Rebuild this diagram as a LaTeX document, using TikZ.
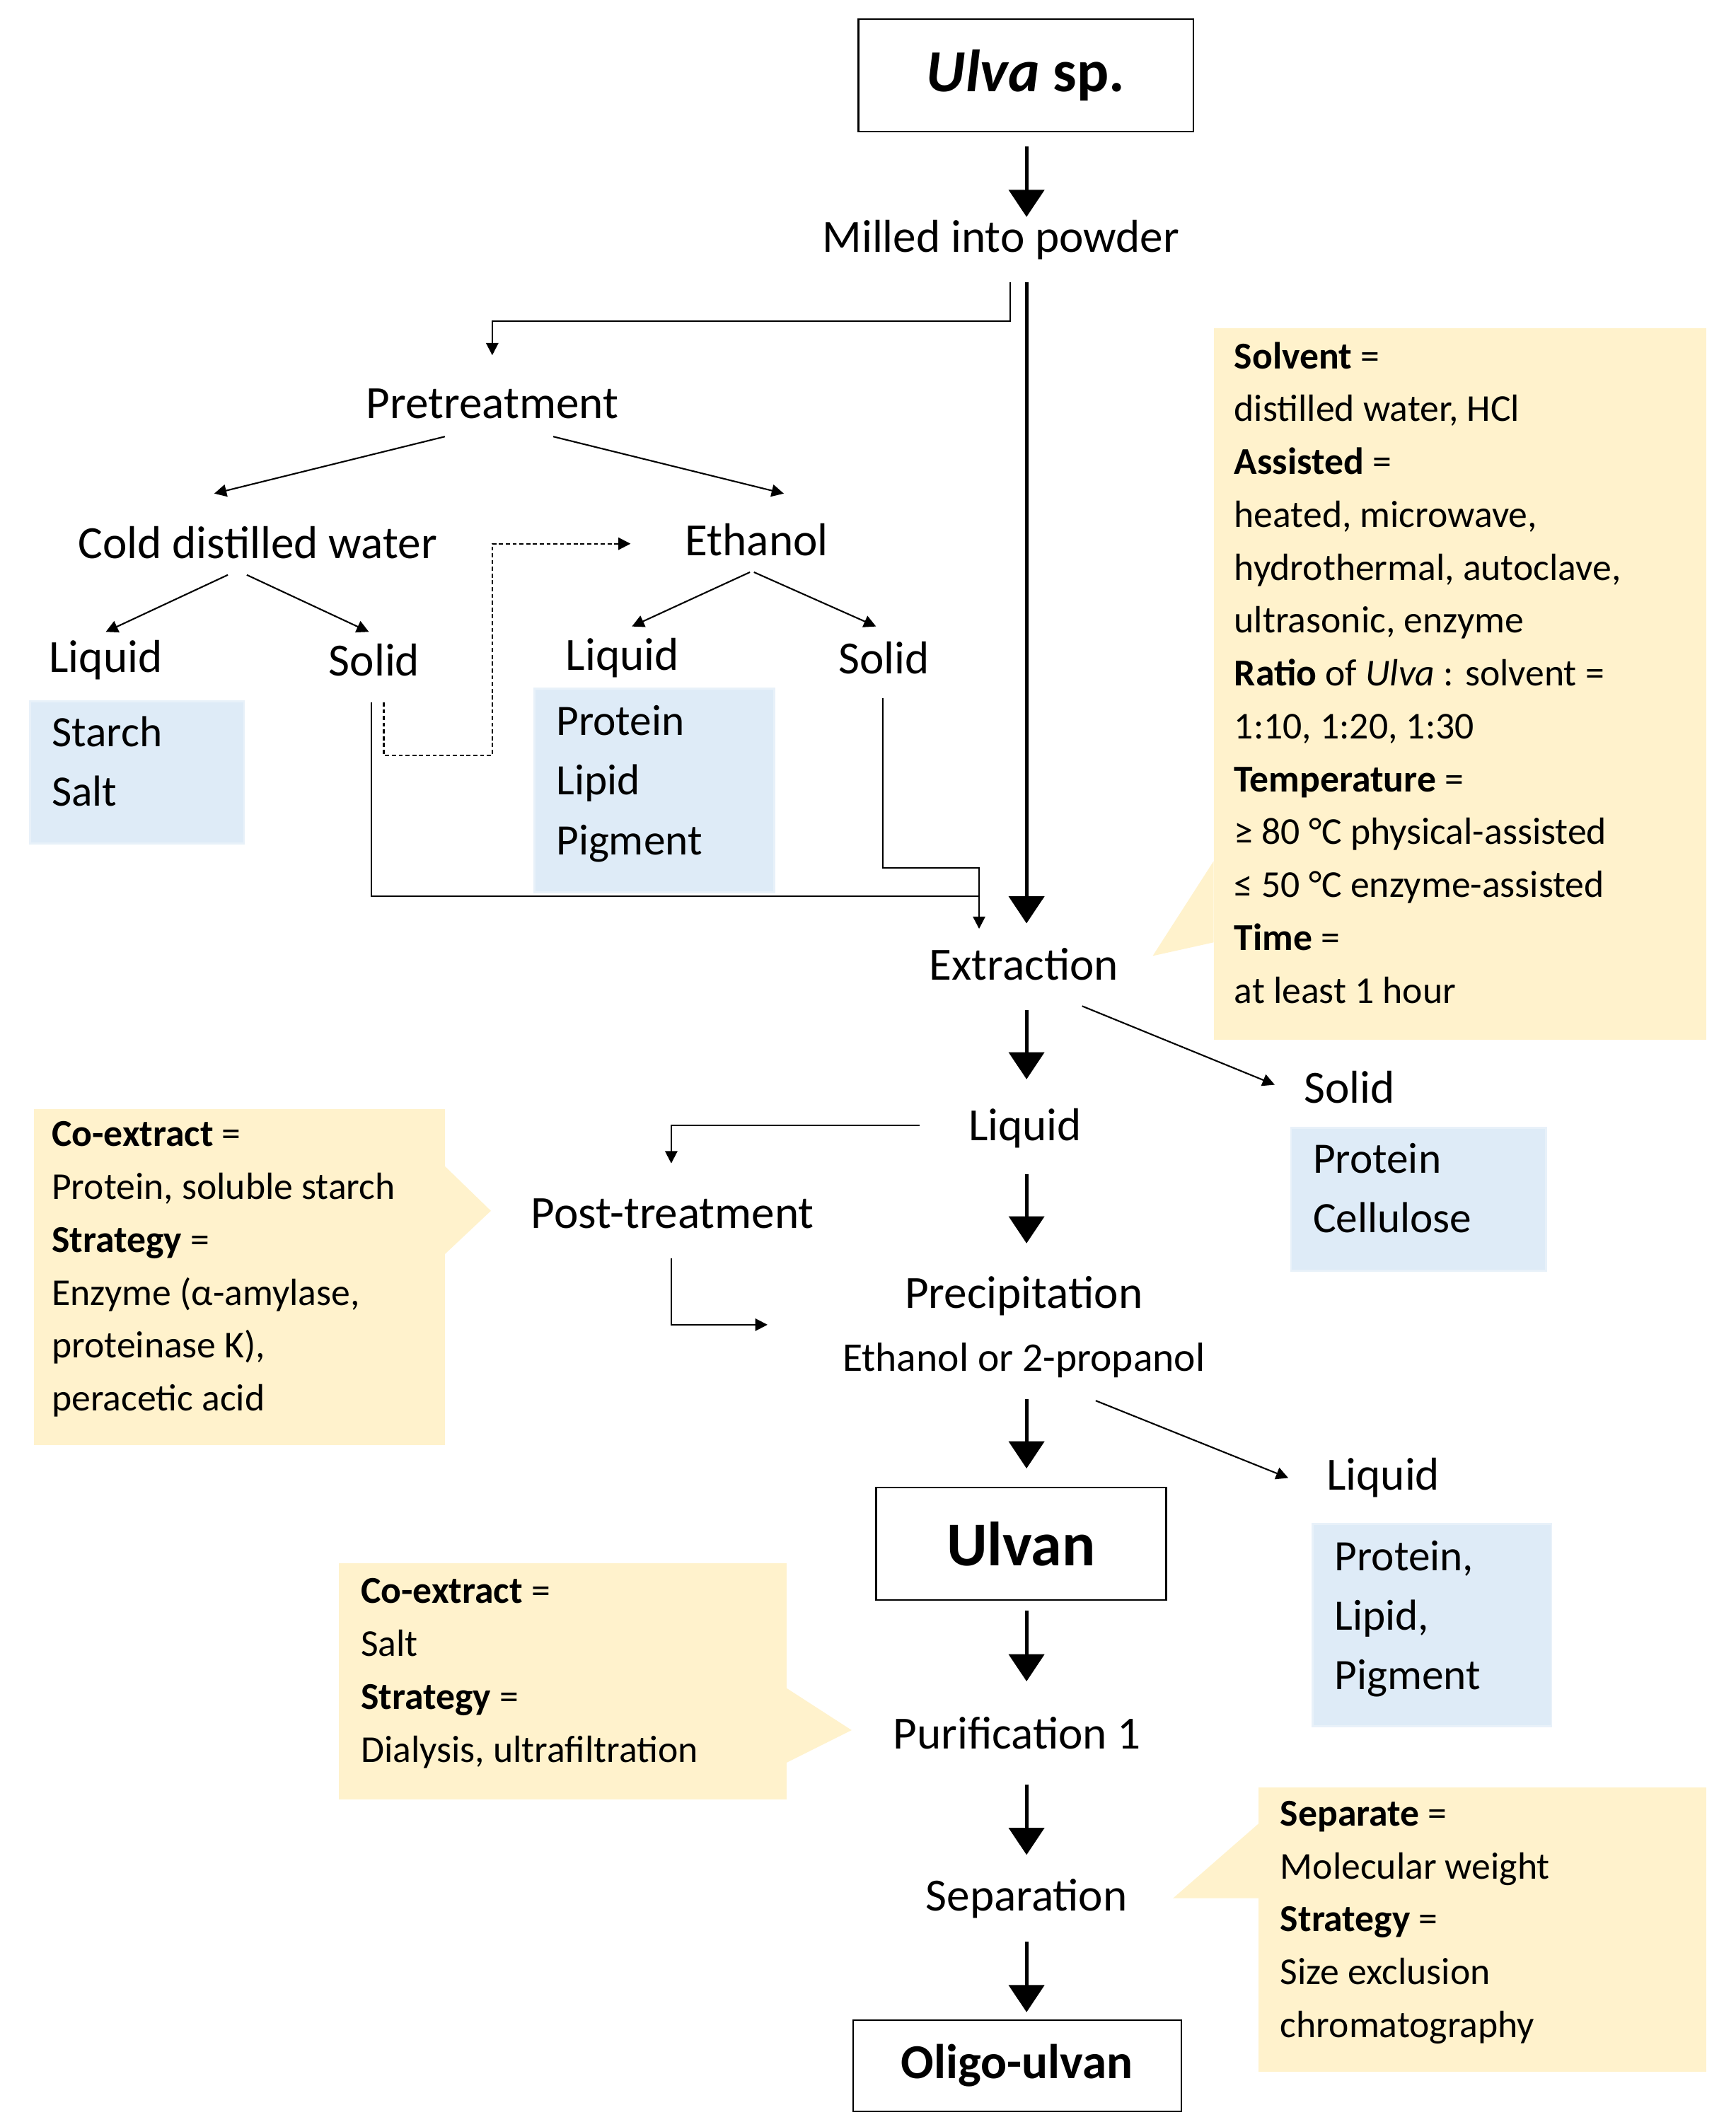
\documentclass[tikz,border=0pt]{standalone}
\usepackage{fontspec}
\setmainfont{Carlito}
\usetikzlibrary{arrows.meta}
\definecolor{yel}{HTML}{FFF2CC}
\definecolor{blu}{HTML}{DEEBF7}
\begin{document}
\begin{tikzpicture}[x=1pt,y=-1pt,
 lab/.style={font=\fontsize{34}{40}\selectfont, inner sep=0},
 call/.style={font=\fontsize{28}{39}\selectfont, align=left, anchor=north west, inner sep=0},
 big/.style={line width=2.6pt,-{Triangle[length=20pt,width=26pt]}},
 thin/.style={line width=1.1pt,-{Triangle[length=9pt,width=9pt]}},
 bx/.style={draw,line width=1.2pt},
 yb/.style={fill=yel},
 bb/.style={fill=blu,draw=blu!70!white,line width=1.5pt}]
\useasboundingbox (0,0) rectangle (1280,1565);
% boxes
\node[bx,minimum width=247,minimum height=83,font=\bfseries\fontsize{44}{50}\selectfont] (ulva) at (756.5,55.5) {\textit{Ulva} sp.};
\node[lab] (mill) at (738,177) {Milled into powder};
\node[lab] (pre) at (363,298) {Pretreatment};
\node[lab] (cold) at (190,400) {Cold distilled water};
\node[lab] (eth) at (558,398) {Ethanol};
\node[lab] (l1) at (78,487) {Liquid};
\node[lab] (s1) at (276,487) {Solid};
\node[lab] (l2) at (459,485) {Liquid};
\node[lab] (s2) at (652,485) {Solid};
\fill[bb] (22,517) rectangle (180,622);
\node[call,font=\fontsize{32}{44}\selectfont] (b1) at (38,528) {Starch\\Salt};
\fill[bb] (394,508) rectangle (571,658);
\node[call,font=\fontsize{32}{44}\selectfont] (b2) at (410,520) {Protein\\Lipid\\Pigment};
\node[lab] (ext) at (755,711) {Extraction};
\node[lab] (sol3) at (995,802) {Solid};
\fill[bb] (952,832) rectangle (1140,937);
\node[call,font=\fontsize{32}{44}\selectfont] (b3) at (968,843) {Protein\\Cellulose};
\node[lab] (liq) at (756,832) {Liquid};
\node[lab] (post) at (496,895) {Post-treatment};
\node[lab] (prec) at (755,956) {Precipitation};
\node[lab,font=\fontsize{30}{36}\selectfont] (etp) at (755,1003) {Ethanol or 2-propanol};
\node[lab] (liq4) at (1020,1090) {Liquid};
\fill[bb] (968,1124) rectangle (1144,1273);
\node[call,font=\fontsize{32}{44}\selectfont] (b4) at (984,1136) {Protein,\\Lipid,\\Pigment};
\node[bx,minimum width=214,minimum height=83,font=\bfseries\fontsize{46}{52}\selectfont] (ulvan) at (753,1138.5) {Ulvan};
\node[lab] (pur) at (750,1278) {Purification 1};
\node[lab] (sep) at (757,1400) {Separation};
\node[bx,minimum width=242,minimum height=67,font=\bfseries\fontsize{36}{42}\selectfont] (oligo) at (750,1523.5) {Oligo-ulvan};
% callouts
\fill[yb] (895,242) rectangle (1258,767);
\fill[yb] (895,635) -- (850,705) -- (895,695) -- cycle;
\node[call] (c1) at (910,252) {\textbf{Solvent} =\\distilled water, HCl\\\textbf{Assisted} =\\heated, microwave,\\hydrothermal, autoclave,\\ultrasonic, enzyme\\\textbf{Ratio} of \textit{Ulva} : solvent =\\1:10, 1:20, 1:30\\\textbf{Temperature} =\\≥ 80 °C physical-assisted\\≤ 50 °C enzyme-assisted\\\textbf{Time} =\\at least 1 hour};
\fill[yb] (25,818) rectangle (328,1066);
\fill[yb] (328,860) -- (362,893) -- (328,925) -- cycle;
\node[call] (c2) at (38,827) {\textbf{Co-extract} =\\Protein, soluble starch\\\textbf{Strategy} =\\Enzyme (α-amylase,\\proteinase K),\\peracetic acid};
\fill[yb] (250,1153) rectangle (580,1327);
\fill[yb] (580,1245) -- (628,1276) -- (580,1300) -- cycle;
\node[call] (c3) at (266,1164) {\textbf{Co-extract} =\\Salt\\\textbf{Strategy} =\\Dialysis, ultrafiltration};
\fill[yb] (928,1318) rectangle (1258,1528);
\fill[yb] (928,1345) -- (865,1400) -- (928,1400) -- cycle;
\node[call] (c4) at (944,1328) {\textbf{Separate} =\\Molecular weight\\\textbf{Strategy} =\\Size exclusion\\chromatography};
% coordinates
\coordinate (a1) at (757,108); \coordinate (a2) at (757,160);
\coordinate (m1) at (745,208); \coordinate (m2) at (745,237); \coordinate (m3) at (363,237); \coordinate (m4) at (363,262);
\coordinate (t1) at (757,208); \coordinate (t2) at (757,681);
\coordinate (p1) at (328,322); \coordinate (p2) at (158,364);
\coordinate (p3) at (408,322); \coordinate (p4) at (578,364);
\coordinate (c1a) at (168,424); \coordinate (c1b) at (78,466);
\coordinate (c2a) at (182,424); \coordinate (c2b) at (272,466);
\coordinate (e1a) at (553,422); \coordinate (e1b) at (466,462);
\coordinate (e2a) at (556,422); \coordinate (e2b) at (646,462);
\coordinate (d1) at (283,518); \coordinate (d2) at (283,557); \coordinate (d3) at (363,557); \coordinate (d4) at (363,401); \coordinate (d5) at (465,401);
\coordinate (q1) at (274,518); \coordinate (q2) at (274,661); \coordinate (q3) at (722,661); \coordinate (q4) at (722,685);
\coordinate (r1) at (651,515); \coordinate (r2) at (651,640); \coordinate (r3) at (722,640);
\coordinate (x1) at (757,745); \coordinate (x2) at (757,796);
\coordinate (x3) at (798,742); \coordinate (x4) at (940,800);
\coordinate (y1) at (678,830); \coordinate (y2) at (495,830); \coordinate (y3) at (495,858);
\coordinate (z1) at (757,866); \coordinate (z2) at (757,917);
\coordinate (w1) at (495,928); \coordinate (w2) at (495,977); \coordinate (w3) at (566,977);
\coordinate (v1) at (757,1032); \coordinate (v2) at (757,1083);
\coordinate (v3) at (808,1033); \coordinate (v4) at (950,1090);
\coordinate (u1) at (757,1188); \coordinate (u2) at (757,1240);
\coordinate (u3) at (757,1316); \coordinate (u4) at (757,1368);
\coordinate (u5) at (757,1432); \coordinate (u6) at (757,1484);
% connectors
\draw[big] (a1) -- (a2);
\draw[thin] (m1) -- (m2) -- (m3) -- (m4);
\draw[big] (t1) -- (t2);
\draw[thin] (p1) -- (p2);
\draw[thin] (p3) -- (p4);
\draw[thin] (c1a) -- (c1b);
\draw[thin] (c2a) -- (c2b);
\draw[thin] (e1a) -- (e1b);
\draw[thin] (e2a) -- (e2b);
\draw[thin,dashed,dash pattern=on 3pt off 2pt] (d1) -- (d2) -- (d3) -- (d4) -- (d5);
\draw[thin] (q1) -- (q2) -- (q3) -- (q4);
\draw[line width=1.1pt] (r1) -- (r2) -- (r3) -- (q3);
\draw[big] (x1) -- (x2);
\draw[thin] (x3) -- (x4);
\draw[thin] (y1) -- (y2) -- (y3);
\draw[big] (z1) -- (z2);
\draw[thin] (w1) -- (w2) -- (w3);
\draw[big] (v1) -- (v2);
\draw[thin] (v3) -- (v4);
\draw[big] (u1) -- (u2);
\draw[big] (u3) -- (u4);
\draw[big] (u5) -- (u6);
\end{tikzpicture}
\end{document}
